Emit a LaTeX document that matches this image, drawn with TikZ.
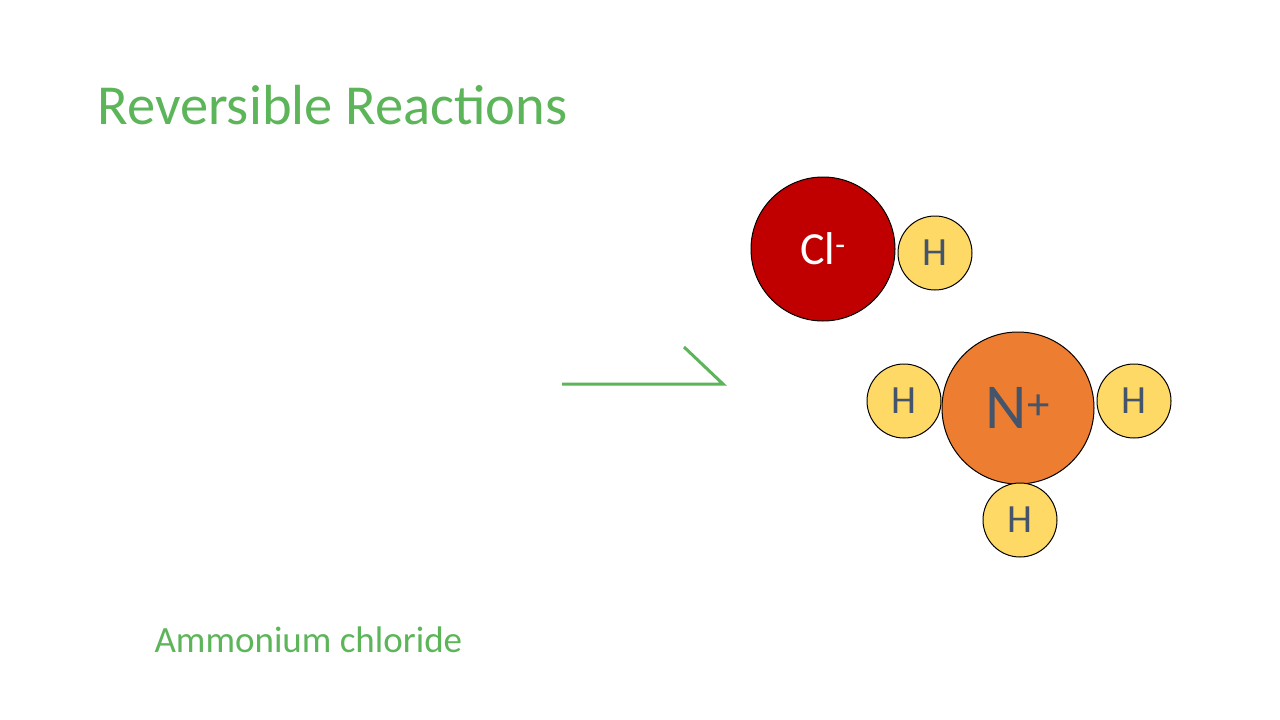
\documentclass[tikz,border=0pt]{standalone}
\usepackage{fontspec}
\setmainfont{Carlito}
\definecolor{grn}{HTML}{5DB55A}
\definecolor{clr}{HTML}{C00000}
\definecolor{hy}{HTML}{FFD966}
\definecolor{nor}{HTML}{ED7D31}
\definecolor{txt}{HTML}{44546A}
\begin{document}
\begin{tikzpicture}[x=1pt,y=-1pt,
 atom/.style={circle,draw=black,line width=1pt,inner sep=0pt},
 hatom/.style={atom,fill=hy,minimum size=74pt,text=txt,font=\fontsize{40}{40}\selectfont}]
\useasboundingbox[fill=white] (0,0) rectangle (1280,720);
\node[anchor=west,text=grn,font=\fontsize{56.5}{56.5}\selectfont] (title) at (94,105) {Reversible Reactions};
\node[anchor=west,text=grn,font=\fontsize{37}{37}\selectfont] (lbl) at (151,640) {Ammonium chloride};
\node[atom,fill=clr,minimum size=144pt,text=white,font=\fontsize{46}{46}\selectfont] (cl) at (823,249) {Cl\textsuperscript{-}};
\node[hatom] (h1) at (935,253) {H};
\node[atom,fill=nor,minimum size=152pt,text=txt,font=\fontsize{64}{64}\selectfont] (n) at (1018,408) {N\textsuperscript{+}};
\node[hatom] (h2) at (904,401) {H};
\node[hatom] (h3) at (1134,401) {H};
\node[hatom] (h4) at (1020,520) {H};
\coordinate (a1) at (562,384);
\coordinate (a2) at (723,384);
\coordinate (a3) at (684,347);
\draw[grn,line width=3pt] (a1) -- (a2) -- (a3);
\end{tikzpicture}
\end{document}
